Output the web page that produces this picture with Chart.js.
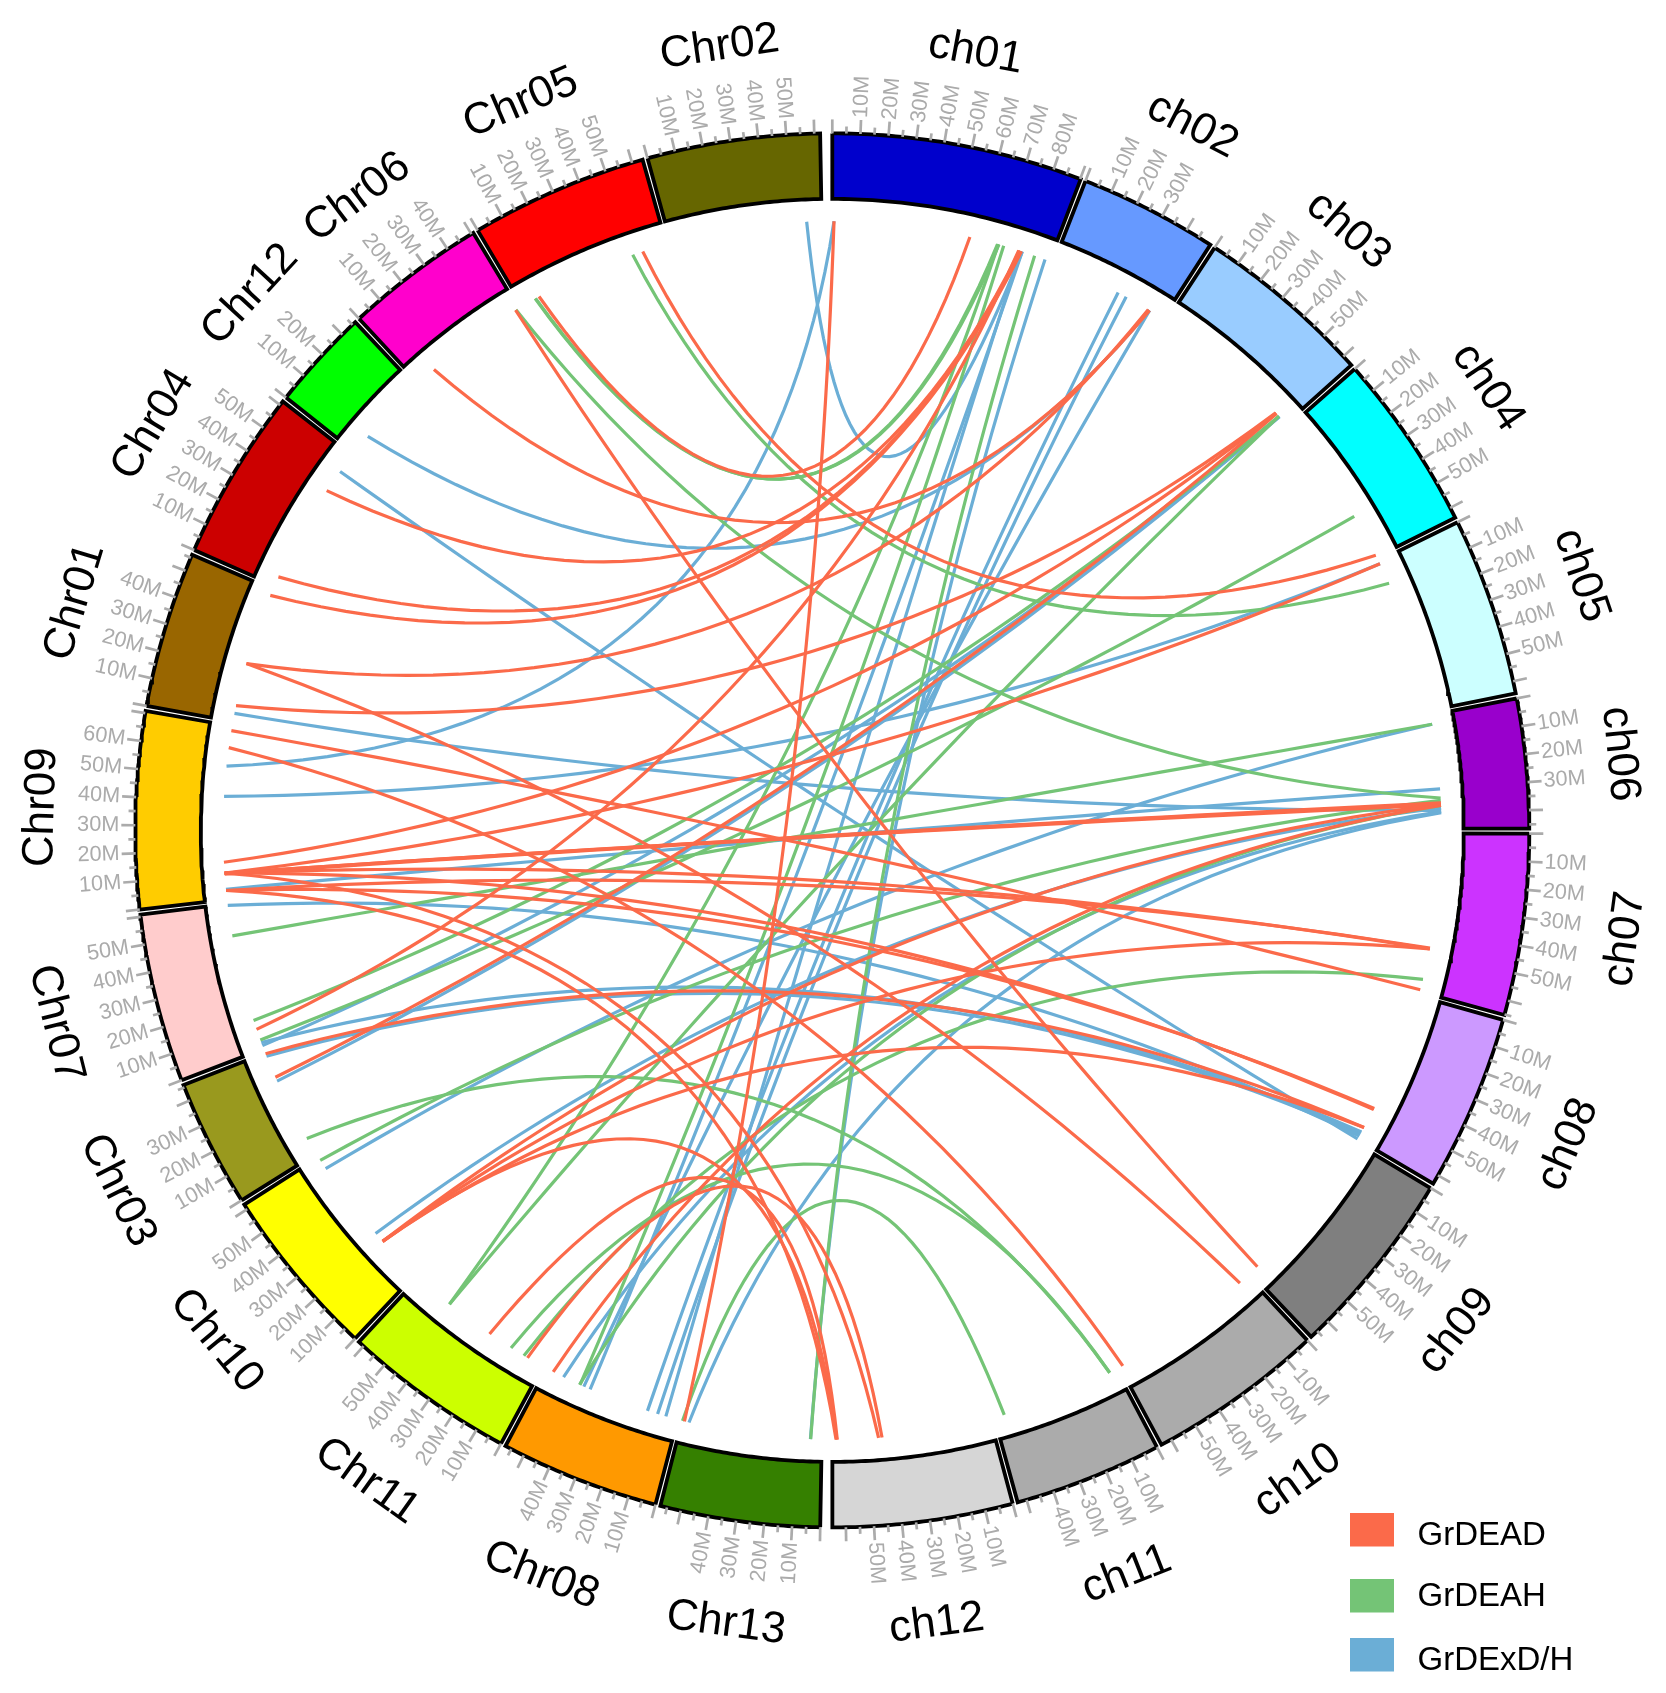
<!DOCTYPE html>
<html>
<head>
<meta charset="utf-8">
<title>Circos</title>
<script src="https://cdn.jsdelivr.net/npm/chart.js@4"></script>
<style>
  html, body { margin: 0; padding: 0; background: #fff; }
  canvas { display: block; }
</style>
</head>
<body>
<canvas id="chartCircos" width="1666" height="1693"></canvas>
<script>
const chromosomes = ['ch01','ch02','ch03','ch04','ch05','ch06','ch07','ch08','ch09','ch10','ch11','ch12',
    'Chr13','Chr08','Chr11','Chr10','Chr03','Chr07','Chr09','Chr01','Chr04','Chr12','Chr06','Chr05','Chr02'];
const lengths = [90.2,49.9,64.2,63.9,64.4,46.5,65.2,63.4,68,63.9,53.3,64.8,
    57.4,57.3,62.2,61.9,45.9,60.8,70.8,56.2,61.6,36.4,50.8,63.9,62.1];
const chromColors = ['#0000CC','#6699FF','#99CCFF','#00FFFF','#CCFFFF','#9900CC','#CC33FF','#CC99FF','#7F7F7F','#ABABAB','#ABABAB','#D6D6D6',
    '#358000','#FF9900','#CCFF00','#FFFF00','#99991E','#FFCCCC','#FFCC00','#996600','#CC0000','#00FF00','#FF00CC','#FF0000','#666600'];

const legendLabels = ['GrDEAD','GrDEAH','GrDExD/H'];
const legendColors = ['#FB6A4A','#74C476','#6BAED6'];

// from chromosome, Mb, to chromosome, Mb
const dead = [
    ['Chr05',53.8,'ch04',63.1],['Chr05',7.8,'ch01',56.4],['Chr06',49.4,'ch09',64.3],['Chr06',8.3,'ch02',43.6],
    ['Chr04',44,'ch01',77.4],['Chr04',3.8,'ch01',77.8],['Chr01',53.6,'ch01',78.2],['Chr01',24.2,'ch02',43],
    ['Chr01',24.2,'ch10',4.2],['Chr01',6.6,'ch03',58.1],['Chr09',68.9,'ch07',64.4],['Chr09',61.9,'ch10',62.6],
    ['Chr09',15.2,'ch03',58.4],['Chr09',10.8,'ch05',1.2],['Chr09',10.8,'ch06',36],['Chr09',10.8,'ch06',36.4],
    ['Chr09',10.4,'ch06',36.8],['Chr09',10.8,'ch07',47.3],['Chr09',10.8,'ch08',49.7],['Chr09',10.8,'ch12',46],
    ['Chr09',3.7,'ch07',47],['Chr09',3.7,'ch08',49.2],['Chr09',3.7,'ch12',63.3],['Chr07',8.4,'ch01',77],
    ['Chr03',45.6,'ch08',58],['Chr03',35.2,'ch03',58.6],['Chr10',18.9,'ch06',36.5],['Chr10',18.9,'ch07',47.3],
    ['Chr10',18.9,'ch08',58],['Chr10',18.9,'ch12',63],['Chr11',25.3,'ch12',62.8],['Chr11',7.1,'ch12',44.6],
    ['Chr08',54.3,'ch06',37],['Chr13',56.4,'ch01',0.7]
];
const deah = [
    ['Chr05',49.5,'ch05',10],['Chr05',6,'ch01',68],['Chr05',6.2,'ch01',68.6],['Chr06',49.6,'ch06',34],
    ['Chr07',47.7,'ch06',3.8],['Chr07',12.2,'ch03',60],['Chr07',3.8,'ch04',45],['Chr03',7.2,'ch11',2.9],
    ['Chr10',60.5,'ch06',35],['Chr11',45.6,'ch01',68.4],['Chr11',45.6,'ch03',60],['Chr11',14.9,'ch11',2.9],
    ['Chr11',8.8,'ch07',60],['Chr08',42.2,'ch01',70.6],['Chr08',42.4,'ch06',37],['Chr13',57.2,'ch11',49.1],
    ['Chr13',4.5,'ch01',83.8]
];
const dexdh = [
    ['Chr02',56,'ch01',78.5],['Chr09',54.3,'ch01',0.7],['Chr12',8.3,'ch02',43.6],['Chr04',53.5,'ch08',63.3],
    ['Chr01',3.4,'ch06',39],['Chr09',42,'ch05',1.2],['Chr09',4.2,'ch06',30.3],['Chr07',60.2,'ch08',61.9],
    ['Chr07',2.7,'ch08',60.1],['Chr03',44.5,'ch08',61],['Chr07',1.4,'ch03',60.4],['Chr03',33.5,'ch03',60.2],
    ['Chr10',56.5,'ch06',3.8],['Chr10',23.2,'ch06',38],['Chr13',54.5,'ch06',40],['Chr08',49.6,'ch06',39.5],
    ['Chr08',40.5,'ch02',43.6],['Chr08',37.7,'ch01',78.5],['Chr08',12.8,'ch02',28.9],['Chr08',8.5,'ch02',32.6],
    ['Chr08',5,'ch01',77.8],['Chr13',4.6,'ch01',88.3]
];

const CX = 832.3, CY = 830.4, R = 697;   // pixel centre and outer radius of the ring
const INNER = 0.906, LINK_R = 0.874, LABEL_R = 1.135, LABEL_R_LOW = 1.148;
const GAP = 0.42, AXIS_GAP = 1.0;        // degrees between sectors
const APEX = 0.63;

const totalGap = GAP * (chromosomes.length - 2) + AXIS_GAP * 2;
const degPerMb = (360 - totalGap) / lengths.reduce((a, b) => a + b, 0);

const sectorStart = {};
let angle = 0;
chromosomes.forEach((name, i) => {
    sectorStart[name] = angle;
    angle += lengths[i] * degPerMb;
    angle += (name === 'ch12' || name === 'Chr02') ? AXIS_GAP : GAP;
});

const toXY = (deg, r) => {
    const a = deg * Math.PI / 180;
    return { x: r * Math.sin(a), y: r * Math.cos(a) };
};
const posAngle = (name, mb) => sectorStart[name] + mb * degPerMb;

const sectorShape = (i) => {
    const name = chromosomes[i];
    const pts = [];
    const steps = 40;
    for (let s = 0; s <= steps; s++) pts.push(toXY(posAngle(name, lengths[i] * s / steps), 1));
    for (let s = steps; s >= 0; s--) pts.push(toXY(posAngle(name, lengths[i] * s / steps), INNER));
    pts.push(pts[0]);
    return pts;
};

// quadratic curve bending toward the centre, as circlize does
const linkCurve = (link) => {
    const p0 = toXY(posAngle(link[0], link[1]), LINK_R);
    const p2 = toXY(posAngle(link[2], link[3]), LINK_R);
    const mx = (p0.x + p2.x) / 2, my = (p0.y + p2.y) / 2;
    const cx = mx * (2 * APEX - 1), cy = my * (2 * APEX - 1);
    const pts = [];
    for (let s = 0; s <= 40; s++) {
        const t = s / 40, u = 1 - t;
        pts.push({
            x: u * u * p0.x + 2 * u * t * cx + t * t * p2.x,
            y: u * u * p0.y + 2 * u * t * cy + t * t * p2.y
        });
    }
    return pts;
};

const datasets = [];
chromosomes.forEach((name, i) => {
    datasets.push({
        label: name,
        data: sectorShape(i),
        showLine: true,
        fill: 'shape',
        backgroundColor: chromColors[i],
        borderColor: '#000000',
        borderWidth: 3.8,
        borderJoinStyle: 'miter',
        pointRadius: 0,
        tension: 0
    });
});
[dead, deah, dexdh].forEach((family, f) => {
    family.forEach((link) => {
        datasets.push({
            label: legendLabels[f],
            data: linkCurve(link),
            showLine: true,
            fill: false,
            borderColor: legendColors[f],
            borderWidth: 3.2,
            pointRadius: 0,
            tension: 0
        });
    });
});

const decorations = {
    id: 'decorations',
    afterDatasetsDraw(chart) {
        const ctx = chart.ctx;
        const sx = chart.scales.x, sy = chart.scales.y;
        const px = (p) => [sx.getPixelForValue(p.x), sy.getPixelForValue(p.y)];

        ctx.save();
        ctx.textBaseline = 'middle';

        chromosomes.forEach((name, i) => {
            // ticks every 5 Mb, long ones every 10 Mb, last long one has no label
            const lastMajor = Math.floor(lengths[i] / 10) * 10;
            for (let mb = 0; mb <= lengths[i]; mb += 5) {
                const deg = posAngle(name, mb);
                const major = mb % 10 === 0;
                const [x0, y0] = px(toXY(deg, 1));
                const [x1, y1] = px(toXY(deg, 1 + (major ? 14 : 7) / R));
                ctx.strokeStyle = '#ABABAB';
                ctx.lineWidth = 2.7;
                ctx.beginPath();
                ctx.moveTo(x0, y0);
                ctx.lineTo(x1, y1);
                ctx.stroke();
                if (major && mb > 0 && mb < lastMajor) {
                    const [tx, ty] = px(toXY(deg, 1 + 16 / R));
                    const right = deg < 180;
                    ctx.save();
                    ctx.translate(tx, ty);
                    ctx.rotate((right ? deg - 90 : deg + 90) * Math.PI / 180);
                    ctx.textAlign = right ? 'left' : 'right';
                    ctx.font = '21.7px "Liberation Sans"';
                    ctx.fillStyle = '#ABABAB';
                    ctx.fillText(mb + 'M', 0, 0);
                    ctx.restore();
                }
            }

            const mid = posAngle(name, lengths[i] / 2);
            const upper = mid < 90 || mid > 270;
            const [lx, ly] = px(toXY(mid, upper ? LABEL_R : LABEL_R_LOW));
            ctx.save();
            ctx.translate(lx, ly);
            ctx.rotate((upper ? mid : mid - 180) * Math.PI / 180);
            ctx.textAlign = 'center';
            ctx.font = '44px "Liberation Sans"';
            ctx.fillStyle = '#000000';
            ctx.fillText(name, 0, 0);
            ctx.restore();
        });

        const legendY = [1513, 1579, 1638];
        const legendTextY = [1536, 1597, 1661];
        legendLabels.forEach((text, i) => {
            ctx.fillStyle = legendColors[i];
            ctx.fillRect(1350, legendY[i], 44, 33.5);
            ctx.fillStyle = '#000000';
            ctx.textAlign = 'left';
            ctx.font = '33px "Liberation Sans"';
            ctx.fillText(text, 1417.5, legendTextY[i]);
        });
        ctx.restore();
    }
};

new Chart(document.getElementById('chartCircos'), {
    type: 'scatter',
    data: { datasets: datasets },
    options: {
        responsive: false,
        animation: false,
        devicePixelRatio: 1,
        layout: { padding: 0 },
        plugins: { legend: { display: false }, tooltip: { enabled: false } },
        scales: {
            x: { display: false, min: -CX / R, max: (1666 - CX) / R },
            y: { display: false, min: -(1693 - CY) / R, max: CY / R }
        }
    },
    plugins: [decorations]
});
</script>
</body>
</html>
